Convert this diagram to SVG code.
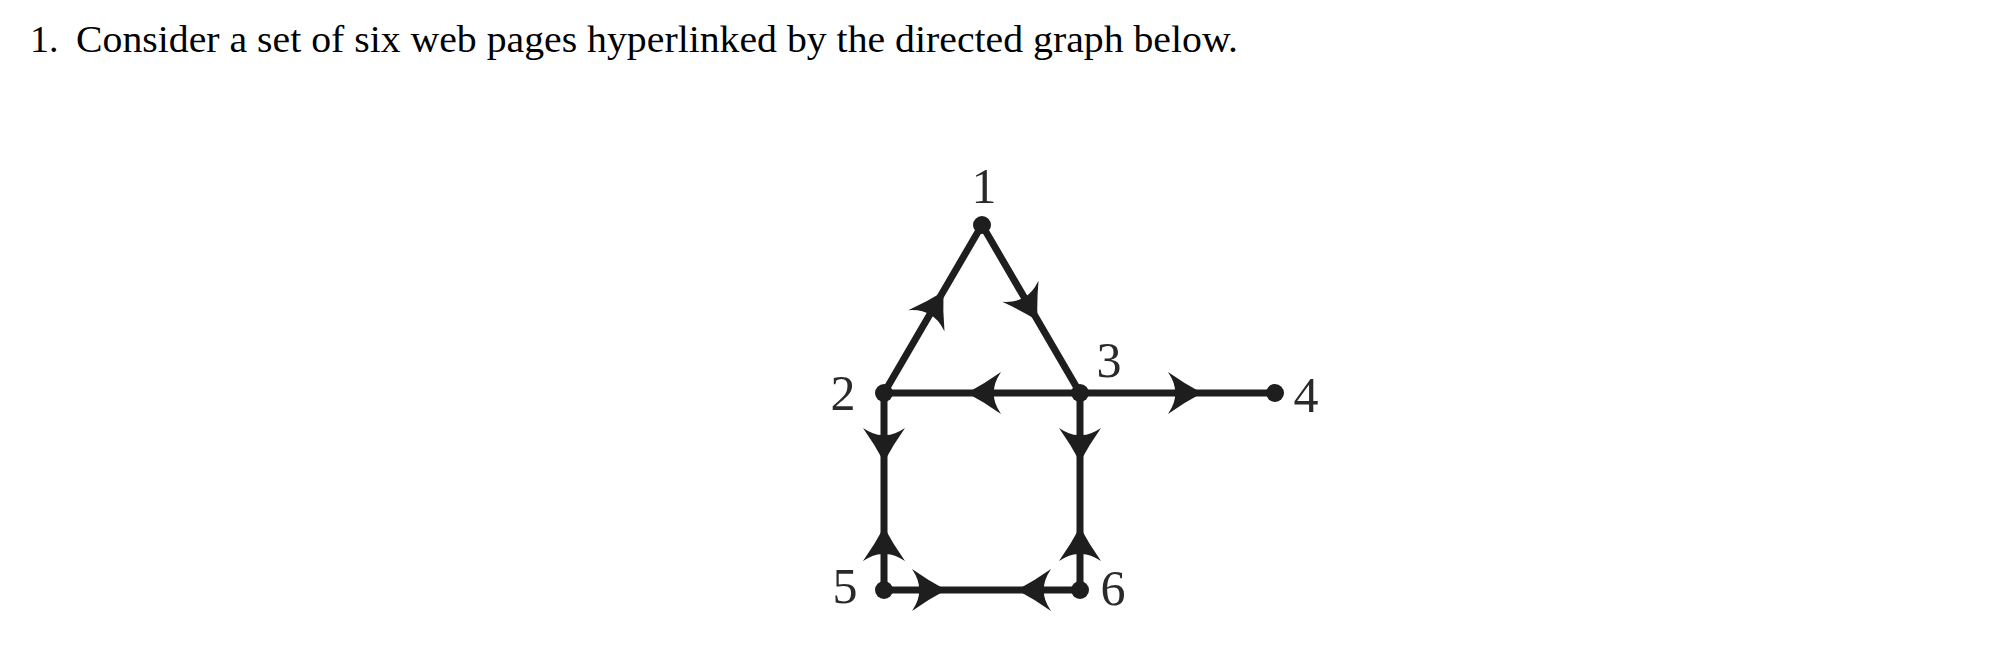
<svg xmlns="http://www.w3.org/2000/svg" xmlns:xlink="http://www.w3.org/1999/xlink" width="1994" height="648" viewBox="0 0 1994 648">
  <style>
    .title { font-family: "Liberation Serif", "DejaVu Serif", serif; font-size: 38px; fill: #000; }
    .lbl { font-family: "Liberation Serif", "DejaVu Serif", serif; font-size: 50px; fill: #2a2a2a; text-anchor: middle; }
    .edge { stroke: #1e1e1e; stroke-width: 7; fill: none; stroke-linecap: round; }
    .dot { fill: #1e1e1e; }
    .ah { fill: #1e1e1e; }
  </style>
  <defs>
    <path id="ah" class="ah" d="M3,0 Q-14,-9 -31,-21 Q-23,-9 -24,0 Q-23,9 -31,21 Q-14,9 3,0 Z"/>
  </defs>
  <rect width="1994" height="648" fill="#fff"/>
  <text class="title" x="30" y="52">1.</text>
  <text class="title" x="76" y="52" textLength="1162" lengthAdjust="spacingAndGlyphs">Consider a set of six web pages hyperlinked by the directed graph below.</text>

  <g id="connectors">
    <line class="edge" x1="884" y1="393" x2="982" y2="225"/>
    <line class="edge" x1="982" y1="225" x2="1080" y2="393"/>
    <line class="edge" x1="884" y1="393" x2="1275" y2="393"/>
    <line class="edge" x1="884" y1="393" x2="884" y2="590"/>
    <line class="edge" x1="1080" y1="393" x2="1080" y2="590"/>
    <line class="edge" x1="884" y1="590" x2="1080" y2="590"/>
    <use xlink:href="#ah" href="#ah" transform="translate(942,294) rotate(-59.7)"/>
    <use xlink:href="#ah" href="#ah" transform="translate(1036,318) rotate(59.7)"/>
    <use xlink:href="#ah" href="#ah" transform="translate(970,393) rotate(180)"/>
    <use xlink:href="#ah" href="#ah" transform="translate(1199,393)"/>
    <use xlink:href="#ah" href="#ah" transform="translate(884,459) rotate(90)"/>
    <use xlink:href="#ah" href="#ah" transform="translate(884,530) rotate(-90)"/>
    <use xlink:href="#ah" href="#ah" transform="translate(1080,459) rotate(90)"/>
    <use xlink:href="#ah" href="#ah" transform="translate(1080,530) rotate(-90)"/>
    <use xlink:href="#ah" href="#ah" transform="translate(943,590)"/>
    <use xlink:href="#ah" href="#ah" transform="translate(1020,590) rotate(180)"/>
  </g>

  <g id="node1"><circle class="dot" cx="982" cy="225" r="9"/><text class="lbl" x="984" y="203">1</text></g>
  <g id="node2"><circle class="dot" cx="884" cy="393" r="9"/><text class="lbl" x="843" y="410">2</text></g>
  <g id="node3"><circle class="dot" cx="1080" cy="393" r="9"/><text class="lbl" x="1109" y="377">3</text></g>
  <g id="node4"><circle class="dot" cx="1275" cy="393" r="9"/><text class="lbl" x="1306" y="412">4</text></g>
  <g id="node5"><circle class="dot" cx="884" cy="590" r="9"/><text class="lbl" x="845" y="603">5</text></g>
  <g id="node6"><circle class="dot" cx="1080" cy="590" r="9"/><text class="lbl" x="1113" y="605">6</text></g>
</svg>
